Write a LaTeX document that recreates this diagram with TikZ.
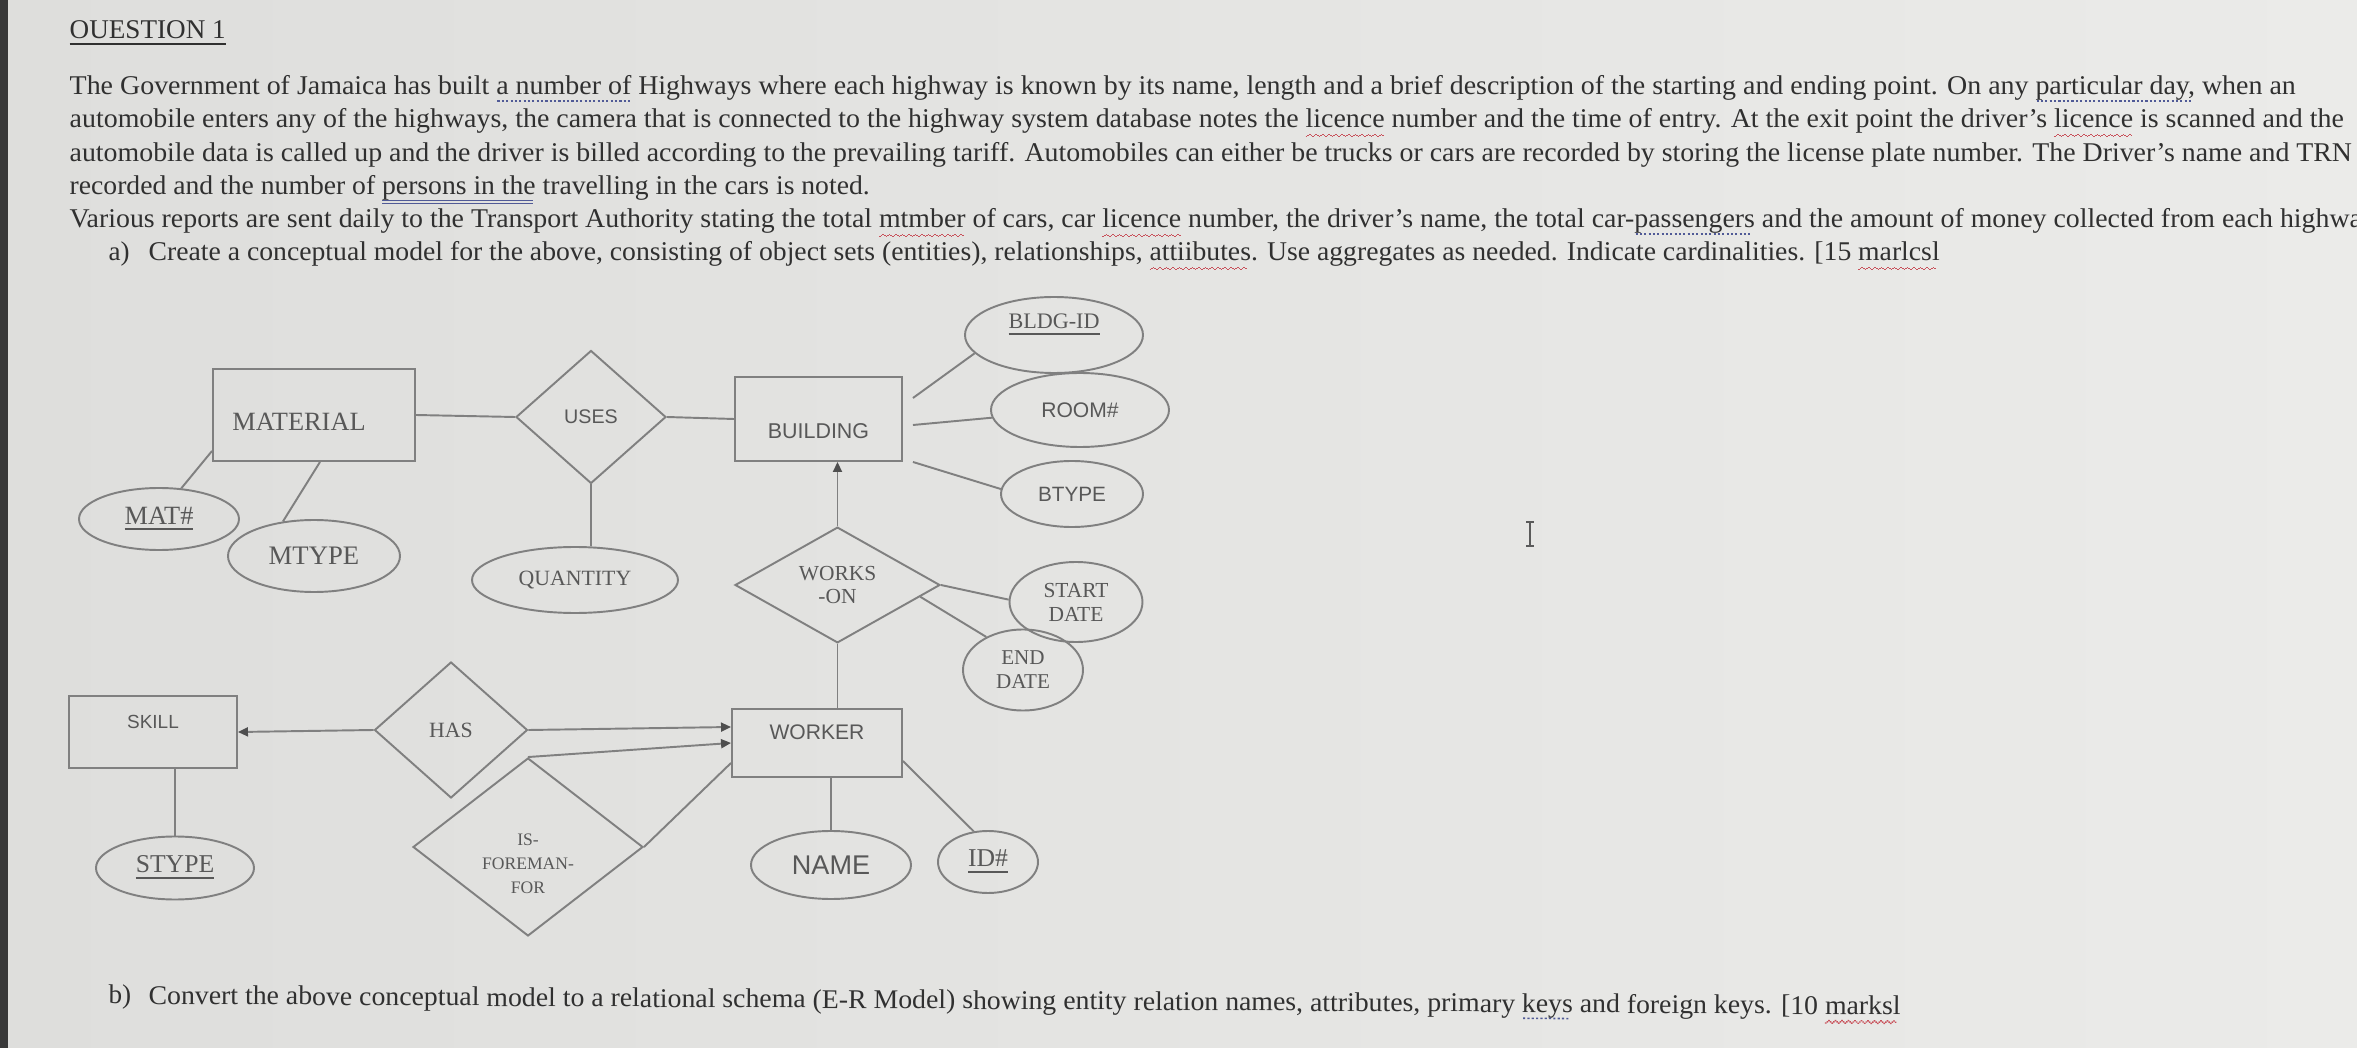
\documentclass[tikz,border=0pt]{standalone}
\usepackage{fontspec}
\setmainfont{Liberation Serif}
\newfontfamily\erfont{Liberation Sans}
\usepackage{xcolor}
\usepackage{graphicx}
\usetikzlibrary{shapes.geometric, arrows.meta, positioning, calc}
\definecolor{paperdk}{RGB}{222,222,220}
\definecolor{paperlt}{RGB}{235,235,233}
\definecolor{ink}{RGB}{48,48,48}
\definecolor{erline}{RGB}{128,128,128}
\definecolor{ertext}{RGB}{88,88,88}
\definecolor{wavered}{RGB}{200,80,90}
\definecolor{dotblue}{RGB}{80,90,150}
% spell-check marks of the photographed page
\newsavebox\markbox
\newcommand\marked[2]{\sbox\markbox{#2}\rlap{\usebox\markbox}\hbox to \wd\markbox{\leaders\hbox{#1}\hfill}}
\newcommand\wavepiece{\textcolor{wavered}{\rule[-2.7pt]{0.45pt}{0.4pt}\rule[-2.35pt]{0.45pt}{0.4pt}\rule[-2.0pt]{0.45pt}{0.4pt}\rule[-2.35pt]{0.45pt}{0.4pt}}}
\newcommand\wavy[1]{\marked{\wavepiece}{#1}}
\newcommand\gdot[1]{\marked{\kern0.3pt\textcolor{dotblue}{\rule[-1.9pt]{0.6pt}{0.45pt}}\kern0.3pt}{#1}}
\newcommand\gdbl[1]{\marked{\textcolor{dotblue}{\rlap{\rule[-1.7pt]{1pt}{0.3pt}}\rule[-2.6pt]{1pt}{0.3pt}}}{#1}}
\newcommand\fitline[2]{\resizebox{#1}{\height}{#2}}
\tikzset{
  body/.style={anchor=base west, inner sep=0pt, text=ink,
    font=\fontsize{7.7}{9}\selectfont},
  entity/.style={rectangle, draw=erline, line width=0.55pt, inner sep=0pt,
    text=ertext},
  relation/.style={diamond, draw=erline, line width=0.55pt, inner sep=0pt,
    text=ertext, align=center},
  attrib/.style={ellipse, draw=erline, line width=0.55pt, inner sep=0pt,
    text=ertext, align=center},
  rmlbl/.style={font=\fontsize{#1}{6.8}\selectfont},
  sflbl/.style={font=\erfont\fontsize{#1}{6.8}\selectfont},
  line/.style={draw=erline, line width=0.55pt},
  arrow/.style={line, -{Triangle[length=1mm, width=0.9mm, color=ink!85]}}
}
\begin{document}
\begin{tikzpicture}
  % page
  \useasboundingbox (0,0) rectangle (23.57,-10.48);
  \clip (0,0) rectangle (23.57,-10.48);
  \shade[left color=paperdk, right color=paperlt] (0,0) rectangle (23.57,-10.48);
  \fill[black!78] (0,0) rectangle (0.08,-10.48);

  % Question text
  \node[body] (title) at (0.69,-0.39) {\fitline{1.56cm}{\underline{OUESTION 1}}};
  \node[body] (para1) at (0.69,-0.95) {\fitline{22.26cm}{The Government of Jamaica has built \gdot{a number of} Highways where each highway is known by its name, length and a brief description of the starting and ending point. On any \gdot{particular day,} when an}};
  \node[body] (para2) at (0.69,-1.28) {\fitline{22.74cm}{automobile enters any of the highways, the camera that is connected to the highway system database notes the \wavy{licence} number and the time of entry. At the exit point the driver's \wavy{licence} is scanned and the}};
  \node[body] (para3) at (0.69,-1.62) {\fitline{22.82cm}{automobile data is called up and the driver is billed according to the prevailing tariff. Automobiles can either be trucks or cars are recorded by storing the license plate number. The Driver's name and TRN}};
  \node[body] (para4) at (0.69,-1.95) {\fitline{8.00cm}{recorded and the number of \gdbl{persons in the} travelling in the cars is noted.}};
  \node[body] (para5) at (0.69,-2.28) {\fitline{23.06cm}{Various reports are sent daily to the Transport Authority stating the total \wavy{mtmber} of cars, car \wavy{licence} number, the driver's name, the total car-\gdot{passengers} and the amount of money collected from each highway}};
  \node[body] (qa) at (1.08,-2.61) {a)};
  \node[body] (qatext) at (1.48,-2.61) {\fitline{17.91cm}{Create a conceptual model for the above, consisting of object sets (entities), relationships, \wavy{attiibutes}. Use aggregates as needed. Indicate cardinalities. [15 \wavy{marlcsl}}};
  \node[body, rotate=-0.35] (qb) at (1.08,-10.03) {b)};
  \node[body, rotate=-0.35] (qbtext) at (1.48,-10.04) {\fitline{17.52cm}{Convert the above conceptual model to a relational schema (E-R Model) showing entity relation names, attributes, primary \gdot{keys} and foreign keys. [10 \wavy{marksl}}};

  % Entities
  \node[entity, minimum width=2.02cm, minimum height=0.92cm,
    label={[rmlbl=7.5, text=ertext, xshift=-1.5mm, yshift=-0.7mm]center:MATERIAL}] (material) at (3.14,-4.15) {};
  \node[entity, minimum width=1.67cm, minimum height=0.84cm,
    label={[sflbl=6.1, text=ertext, yshift=-1.2mm]center:BUILDING}] (building) at (8.185,-4.19) {};
  \node[entity, minimum width=1.68cm, minimum height=0.72cm,
    label={[sflbl=5.4, text=ertext, yshift=1mm]center:SKILL}] (skill) at (1.53,-7.32) {};
  \node[entity, minimum width=1.70cm, minimum height=0.68cm,
    label={[sflbl=6, text=ertext, yshift=1.1mm]center:WORKER}] (worker) at (8.17,-7.43) {};

  % Relationships
  \node[relation, sflbl=5.6, minimum width=1.50cm, minimum height=1.33cm] (uses) at (5.91,-4.17) {USES};
  \node[relation, rmlbl=6.1, minimum width=2.05cm, minimum height=1.14cm] (workson) at (8.375,-5.85) {WORKS\\-ON};
  \node[relation, rmlbl=6.2, minimum width=1.53cm, minimum height=1.36cm] (has) at (4.51,-7.30) {HAS};
  \node[relation, minimum width=2.30cm, minimum height=1.78cm,
    label={[rmlbl=5, text=ertext, align=center, yshift=-1.7mm]center:IS-\\FOREMAN-\\FOR}] (isforeman) at (5.28,-8.47) {};

  % Attributes
  \node[attrib, rmlbl=7.5, minimum width=1.60cm, minimum height=0.62cm] (matno) at (1.59,-5.19) {\underline{MAT\#}};
  \node[attrib, rmlbl=7.6, minimum width=1.72cm, minimum height=0.72cm] (mtype) at (3.14,-5.56) {MTYPE};
  \node[attrib, rmlbl=6.2, minimum width=2.06cm, minimum height=0.66cm] (quantity) at (5.75,-5.80) {QUANTITY};
  \node[attrib, minimum width=1.78cm, minimum height=0.76cm,
    label={[rmlbl=6.3, text=ertext, yshift=1mm]center:\underline{BLDG-ID}}] (bldgid) at (10.54,-3.35) {};
  \node[attrib, sflbl=6, minimum width=1.78cm, minimum height=0.74cm] (room) at (10.80,-4.10) {ROOM\#};
  \node[attrib, sflbl=5.9, minimum width=1.42cm, minimum height=0.66cm] (btype) at (10.72,-4.94) {BTYPE};
  \node[attrib, rmlbl=6.1, minimum width=1.33cm, minimum height=0.80cm] (startdate) at (10.76,-6.02) {START\\DATE};
  \node[attrib, rmlbl=6, minimum width=1.20cm, minimum height=0.81cm] (enddate) at (10.23,-6.70) {END\\DATE};
  \node[attrib, rmlbl=7.3, minimum width=1.58cm, minimum height=0.63cm] (stype) at (1.75,-8.68) {\underline{STYPE}};
  \node[attrib, sflbl=7.7, minimum width=1.60cm, minimum height=0.68cm] (name) at (8.31,-8.65) {NAME};
  \node[attrib, rmlbl=7.3, minimum width=1.00cm, minimum height=0.62cm] (idno) at (9.88,-8.62) {\underline{ID\#}};

  % Connectors
  \draw[line] ([yshift=1.1mm]material.south west) -- (matno.54);
  \draw[line] ([xshift=0.6mm]material.south) -- (mtype.132);
  \draw[line] (material.east) -- (uses.west);
  \draw[line] (uses.east) -- (building.west);
  \draw[line] (uses.south) -- (uses.south |- quantity.north);
  \draw[line] ([shift={(1mm,2.1mm)}]building.east) -- (bldgid.193);
  \draw[line] ([shift={(1mm,-0.6mm)}]building.east) -- (room.185);
  \draw[line] ([xshift=1mm]building.south east) -- (btype.176);
  \draw[arrow] (workson.north) -- (workson.north |- building.south);
  \draw[line] (workson.south) -- (workson.south |- worker.north);
  \draw[line] (workson.east) -- (startdate.178);
  \draw[line] ($(workson.east)!0.2!(workson.south)$) -- (enddate.138);
  \draw[arrow] (has.west) -- (skill.east);
  \draw[line] (stype.north |- skill.south) -- (stype.north);
  \draw[arrow] (has.east) -- ([yshift=1.6mm]worker.west);
  \draw[arrow] (isforeman.north) -- (worker.west);
  \draw[line] (isforeman.east) -- ([yshift=1.5mm]worker.south west);
  \draw[line] (name.north |- worker.south) -- (name.north);
  \draw[line] ([yshift=1.7mm]worker.south east) -- (idno.115);

  % text cursor
  \draw[ink!80, line width=0.35pt] (15.30,-5.23) -- (15.30,-5.45)
    (15.26,-5.22) -- (15.34,-5.22) (15.26,-5.46) -- (15.34,-5.46);
\end{tikzpicture}
\end{document}
